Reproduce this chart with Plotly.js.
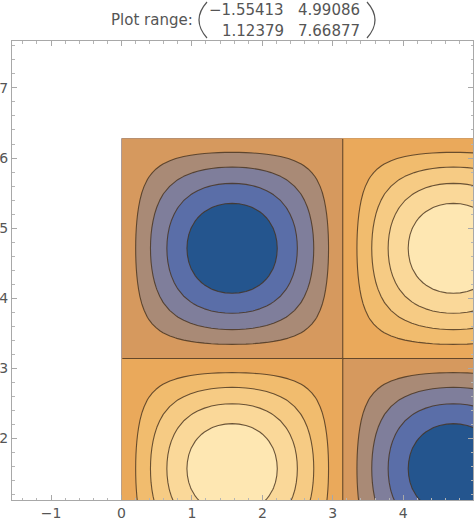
<!DOCTYPE html>
<html>
<head>
<meta charset="utf-8">
<script src="https://cdn.plot.ly/plotly-3.0.1.min.js"></script>
<style>html,body{margin:0;padding:0;background:#fff;}#chart{width:474px;height:521px;}</style>
</head>
<body>
<div id="chart"></div>
<script>
// grid positions (0 .. 2π, step π/32, with extra samples next to 0, π and 2π)
var gridX = [0, 0.01, 0.09817, 0.19635, 0.29452, 0.3927, 0.49087, 0.58905, 0.68722, 0.7854, 0.88357, 0.98175, 1.07992, 1.1781, 1.27627, 1.37445, 1.47262, 1.5708, 1.66897, 1.76715, 1.86532, 1.9635, 2.06167, 2.15985, 2.25802, 2.35619, 2.45437, 2.55254, 2.65072, 2.74889, 2.84707, 2.94524, 3.04342, 3.13159, 3.14159, 3.15159, 3.23977, 3.33794, 3.43612, 3.53429, 3.63247, 3.73064, 3.82882, 3.92699, 4.02517, 4.12334, 4.22152, 4.31969, 4.41786, 4.51604, 4.61421, 4.71239, 4.81056, 4.90874, 5.00691, 5.10509, 5.20326, 5.30144, 5.39961, 5.49779, 5.59596, 5.69414, 5.79231, 5.89049, 5.98866, 6.08684, 6.18501, 6.27319, 6.28319];
var gridY = gridX.slice();
// value profile along each direction
var profileX = [0, 0.01, 0.098, 0.195, 0.290, 0.383, 0.471, 0.556, 0.634, 0.707, 0.773, 0.831, 0.882, 0.924, 0.957, 0.981, 0.995, 1, 0.995, 0.981, 0.957, 0.924, 0.882, 0.831, 0.773, 0.707, 0.634, 0.556, 0.471, 0.383, 0.290, 0.195, 0.098, 0.01, 0, -0.01, -0.098, -0.195, -0.290, -0.383, -0.471, -0.556, -0.634, -0.707, -0.773, -0.831, -0.882, -0.924, -0.957, -0.981, -0.995, -1, -0.995, -0.981, -0.957, -0.924, -0.882, -0.831, -0.773, -0.707, -0.634, -0.556, -0.471, -0.383, -0.290, -0.195, -0.098, -0.01, 0];
var profileY = profileX.slice();
// band colours from lowest (-1..-0.8) to highest (0.8..1)
var bandColors = ['#24558e', '#5a6ea8', '#7f7e9b', '#a98a76', '#d6995e', '#eaa95b', '#f1bc6e', '#f6cb84', '#fad899', '#fee7b2'];
var rangeX = [-1.55413, 4.99086];
var rangeY = [1.12379, 7.66877];
var rangeRows = [['\u22121.55413', '4.99086'], ['1.12379', '7.66877']];

var z = profileY.map(function (vy) { return profileX.map(function (vx) { return vy * vx; }); });

var cs = [];
var nb = bandColors.length;
for (var k = 0; k < nb; k++) {
  cs.push([k / nb + (k === 0 ? 0 : 0.0001), bandColors[k]]);
  cs.push([(k + 1) / nb, bandColors[k]]);
}

var W = 474, H = 521, L = 12, R = 1, T = 41, B = 21;
function px(x) { return (x - L) / (W - L - R); }
function py(y) { return (H - B - y) / (H - T - B); }

var levels = { start: -0.8, end: 0.8, size: 0.2 };

var fillTrace = {
  type: 'contour',
  x: gridX, y: gridY, z: z,
  zmin: -1, zmax: 1, zauto: false,
  autocontour: false,
  contours: { start: levels.start, end: levels.end, size: levels.size, coloring: 'fill' },
  colorscale: cs,
  showscale: false,
  line: { width: 0, smoothing: 0 },
  hoverinfo: 'skip'
};
// contour lines drawn on the interior samples only, so the outer edge gets no line
var lineTrace = {
  type: 'contour',
  x: gridX.slice(1, -1), y: gridY.slice(1, -1),
  z: z.slice(1, -1).map(function (r) { return r.slice(1, -1); }),
  autocontour: false,
  contours: { start: levels.start, end: levels.end, size: levels.size, coloring: 'none' },
  showscale: false,
  line: { color: 'rgba(70,50,30,0.8)', width: 1.1, smoothing: 0 },
  hoverinfo: 'skip'
};

var font = { family: 'DejaVu Sans', size: 15, color: '#555555' };
var axisCommon = {
  showgrid: false, zeroline: false, showline: true, mirror: 'allticks',
  linecolor: '#a8a8a8', linewidth: 1,
  ticks: 'inside', ticklen: 5, tickwidth: 1, tickcolor: '#a8a8a8',
  dtick: 1, tick0: 0,
  minor: { ticks: 'inside', ticklen: 2.5, dtick: 0.2, tick0: 0, tickcolor: '#b5b5b5', showgrid: false },
  tickfont: { family: 'DejaVu Sans', size: 14, color: '#555555' }
};
var xaxis = Object.assign({}, axisCommon, { range: rangeX, autorange: false });
var yaxis = Object.assign({}, axisCommon, { range: rangeY, autorange: false });

var anns = [
  { xref: 'paper', yref: 'paper', x: px(152), y: py(20), text: 'Plot range:', showarrow: false, xanchor: 'center', yanchor: 'middle', font: font },
  { xref: 'paper', yref: 'paper', x: px(286), y: py(10), text: rangeRows[0][0], showarrow: false, xanchor: 'right', yanchor: 'middle', font: font },
  { xref: 'paper', yref: 'paper', x: px(296), y: py(10), text: rangeRows[0][1], showarrow: false, xanchor: 'left', yanchor: 'middle', font: font },
  { xref: 'paper', yref: 'paper', x: px(286), y: py(31), text: rangeRows[1][0], showarrow: false, xanchor: 'right', yanchor: 'middle', font: font },
  { xref: 'paper', yref: 'paper', x: px(296), y: py(31), text: rangeRows[1][1], showarrow: false, xanchor: 'left', yanchor: 'middle', font: font }
];

function paren(x0, xc, y0, y1) {
  var ym = (y0 + y1) / 2;
  return 'M ' + px(x0) + ' ' + py(y0) + ' Q ' + px(xc) + ' ' + py(ym) + ' ' + px(x0) + ' ' + py(y1);
}
var shapes = [
  { type: 'path', xref: 'paper', yref: 'paper', path: paren(207, 191, 2, 38), line: { color: '#555555', width: 1.2 } },
  { type: 'path', xref: 'paper', yref: 'paper', path: paren(367, 383, 2, 38), line: { color: '#555555', width: 1.2 } }
];

var layout = {
  width: W, height: H,
  margin: { l: L, r: R, t: T, b: B, pad: 0 },
  paper_bgcolor: '#ffffff', plot_bgcolor: '#ffffff',
  xaxis: xaxis, yaxis: yaxis,
  annotations: anns, shapes: shapes,
  showlegend: false
};

Plotly.newPlot('chart', [fillTrace, lineTrace], layout, { staticPlot: true, displayModeBar: false });
</script>
</body>
</html>
